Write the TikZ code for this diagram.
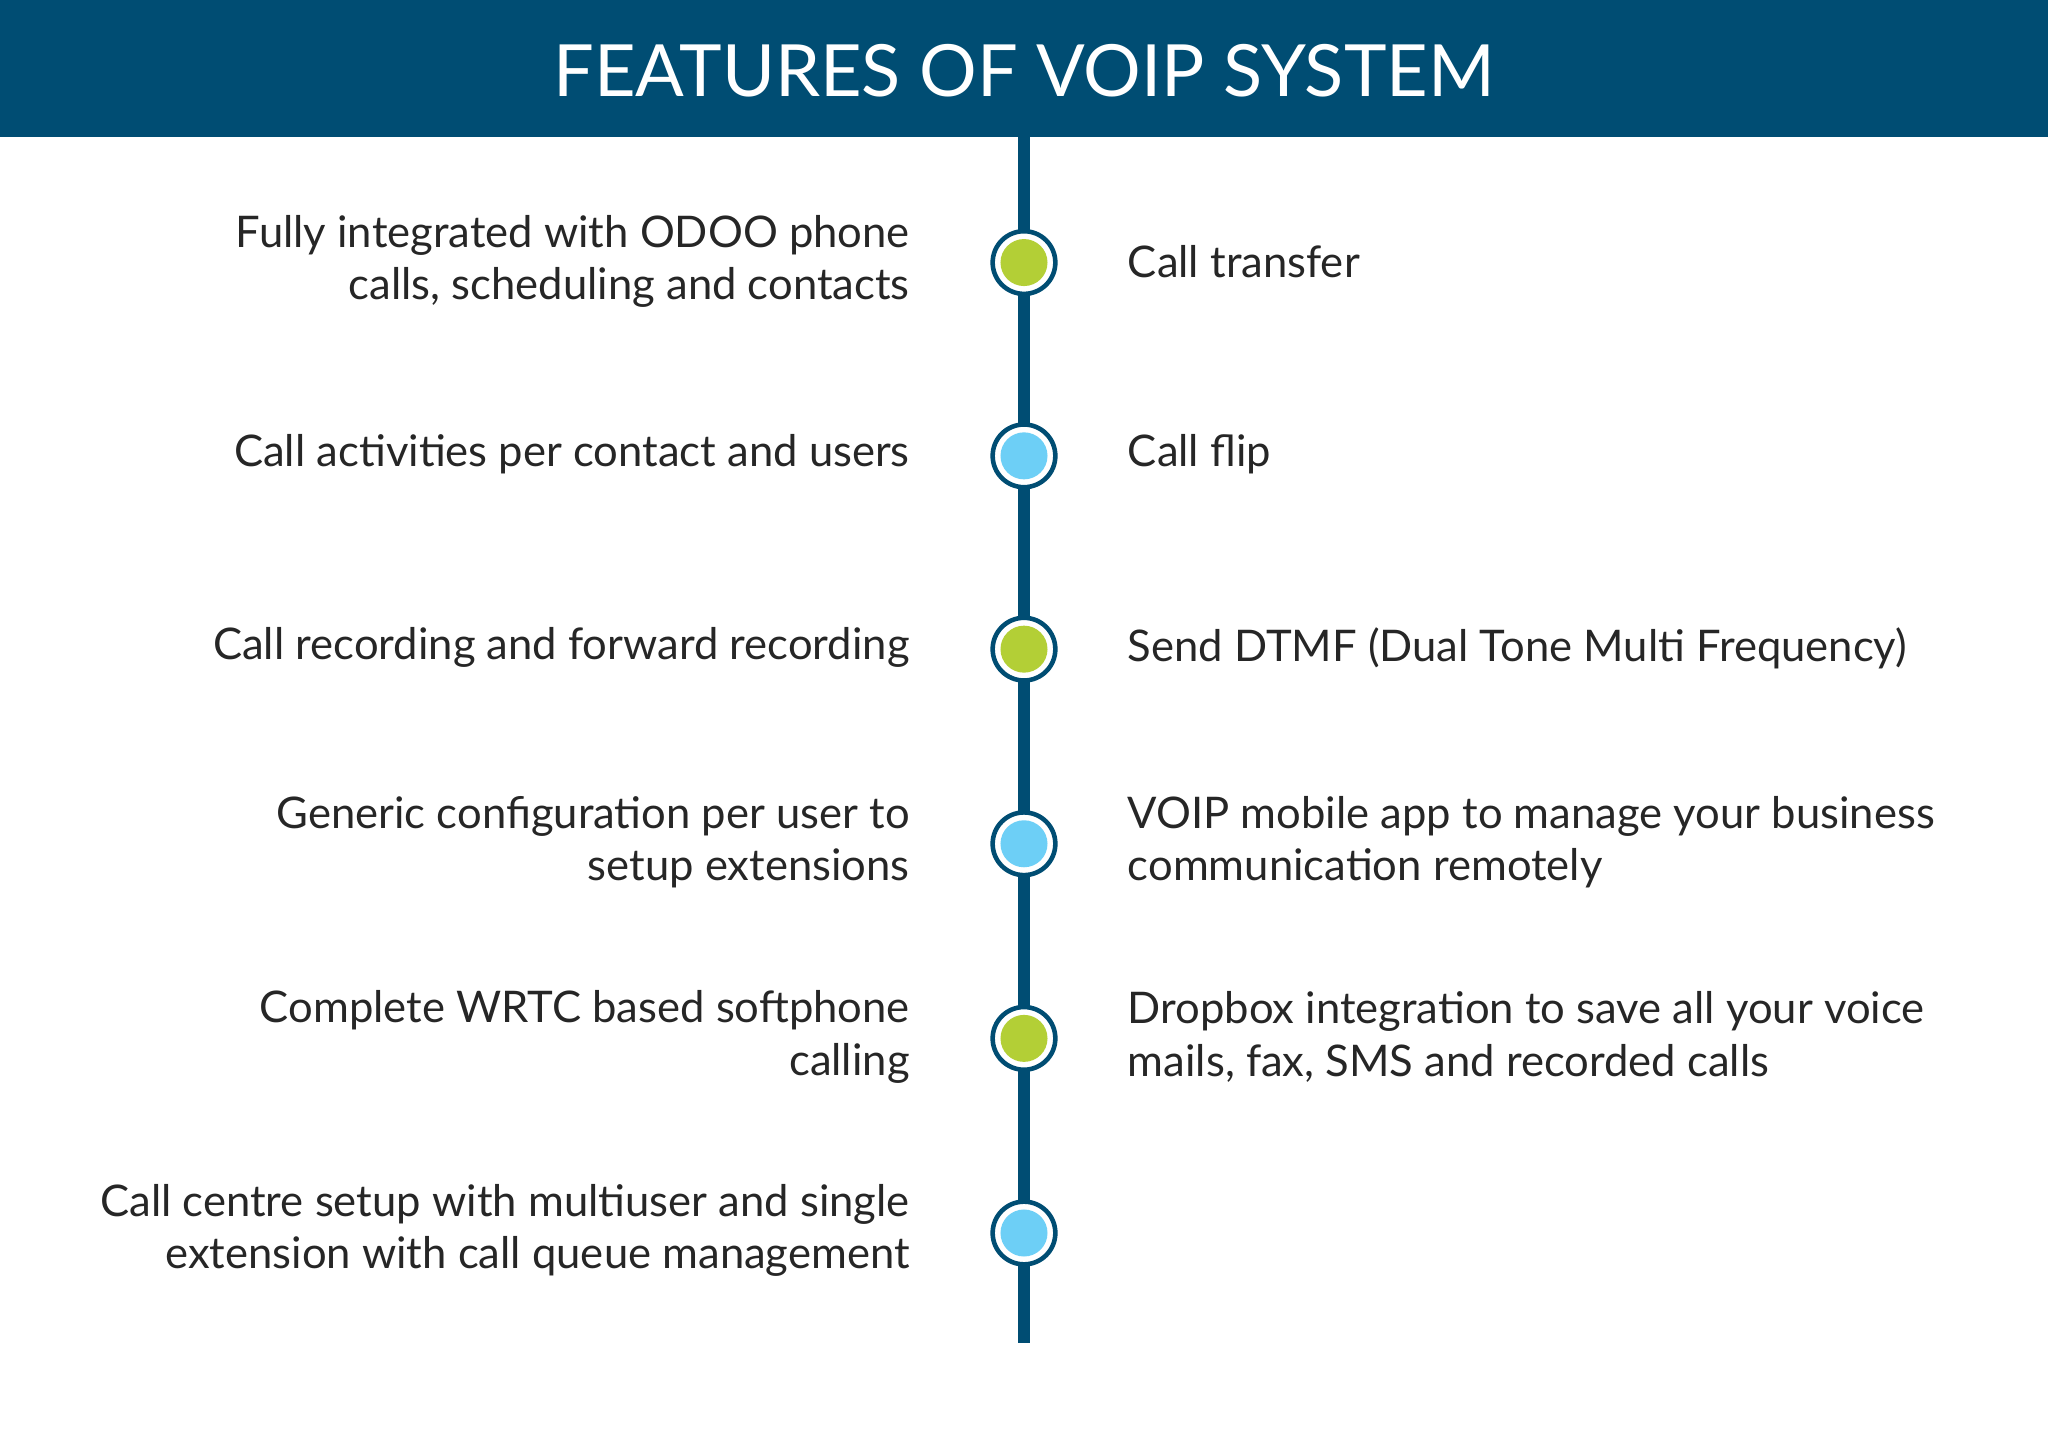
\documentclass[tikz,border=0pt]{standalone}
\usepackage{fontspec}
\setmainfont{Lato}
\usetikzlibrary{positioning}
\definecolor{navy}{HTML}{004D73}
\definecolor{lime}{HTML}{B3CF36}
\definecolor{sky}{HTML}{6DCFF6}
\tikzset{
  feat/.style={font=\fontsize{12.4}{14.9}\selectfont, text=black!85, inner sep=0pt, align=right, anchor=east},
  featr/.style={feat, align=left, anchor=west},
  dot/.style={circle, draw=navy, line width=1.3pt, fill=white, minimum size=48*0.013061cm, inner sep=0pt,
    path picture={\fill[#1] (path picture bounding box.center) circle (18*0.013061cm);}}
}
\begin{document}
\begin{tikzpicture}[x=0.013061cm, y=-0.013061cm]
    \useasboundingbox (0, 0) rectangle (1568, 1108);

    % Header
    \fill[navy] (0, 0) rectangle (1568, 105);
    \node[text=white, font=\fontsize{20.5}{24}\selectfont] (title) at (784, 54) {FEATURES OF VOIP SYSTEM};

    % Timeline
    \coordinate (top) at (784, 105);
    \coordinate (bottom) at (784, 1028);
    \draw[navy, line width=1.2mm] (top) -- (bottom);

    % Dots
    \foreach \i/\y/\c in {1/201/lime, 2/349/sky, 3/497/lime, 4/646/sky, 5/795/lime, 6/944/sky}
      \node[dot=\c] (d\i) at (784, \y) {};

    % Left texts
    \node[feat] (l1) at (697, 200) {Fully integrated with ODOO phone\\calls, scheduling and contacts};
    \node[feat] (l2) at (697, 348) {Call activities per contact and users};
    \node[feat] (l3) at (697, 496) {Call recording and forward recording};
    \node[feat] (l4) at (697, 645) {Generic configuration per user to\\setup extensions};
    \node[feat] (l5) at (697, 794) {Complete WRTC based softphone\\calling};
    \node[feat] (l6) at (697, 942) {Call centre setup with multiuser and single\\extension with call queue management};

    % Right texts
    \node[featr] (r1) at (863, 200) {Call transfer};
    \node[featr] (r2) at (863, 348) {Call flip};
    \node[featr] (r3) at (863, 496) {Send DTMF (Dual Tone Multi Frequency)};
    \node[featr] (r4) at (863, 645) {VOIP mobile app to manage your business\\communication remotely};
    \node[featr] (r5) at (863, 794) {Dropbox integration to save all your voice\\mails, fax, SMS and recorded calls};
\end{tikzpicture}
\end{document}
